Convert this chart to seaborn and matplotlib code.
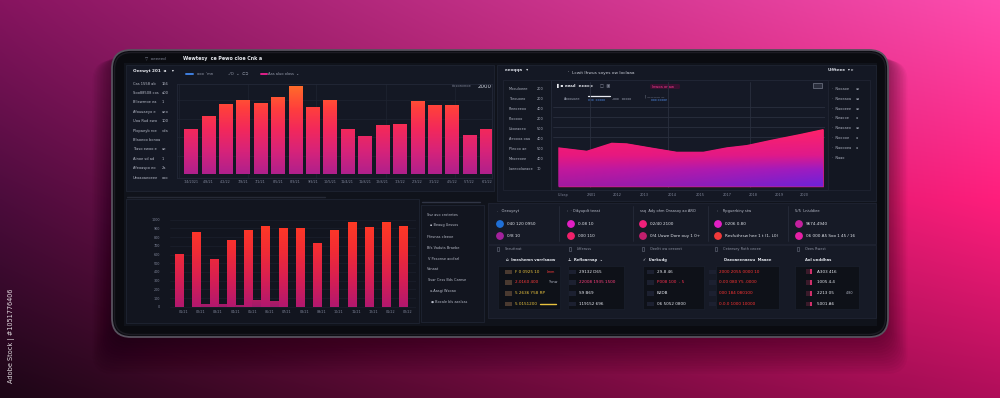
import numpy as np
import pandas as pd
import matplotlib
matplotlib.use("Agg")
import matplotlib.pyplot as plt
import seaborn as sns
from matplotlib.patches import FancyBboxPatch, Rectangle, Circle
from matplotlib.colors import LinearSegmentedColormap, to_rgb

sns.set_theme(style="dark")
plt.rcParams['font.family'] = ['DejaVu Sans']

# ---------------- data ----------------
top_labels = ['1/4/2021', '4/8/21', '4/2/22', '7/8/21', '7/1/21', '8/5/21', '8/9/21', '9/9/21',
              '10/5/21', '11/4/21', '11/8/21', '12/8/21', '1/3/22', '2/3/22', '3/1/22',
              '4/5/22', '5/7/22', '6/1/22']
top_values = [958, 1231, 1498, 1577, 1512, 1649, 1894, 1426, 1577, 958, 806, 1037, 1066,
              1562, 1469, 1490, 821, 958]

bottom_labels = ['01/21', '02/21', '03/21', '04/21', '05/21', '06/21', '07/21', '08/21',
                 '09/21', '10/21', '11/21', '12/21', '01/22', '02/22']
bottom_main = [604, 861, 546, 769, 881, 927, 904, 904, 731, 877, 977, 911, 977, 931]
bottom_extra = [0, 27, 27, 23, 77, 58, 0, 0, 0, 0, 0, 0, 0, 0]
bottom_yticks = [0, 100, 200, 300, 400, 500, 600, 700, 800, 900, 1000]

area_x = [0, 85, 160, 205, 275, 355, 435, 505, 565, 645, 725, 795]
area_y = [394, 360, 440, 434, 394, 350, 350, 394, 417, 474, 527, 577]
area_tick_pos = [14, 98, 176, 257, 341, 425, 506, 584, 662, 737]
area_tick_labels = ['Uilsep', '2N01', '2012', '2013', '2014', '2015', '2017', '2018', '2019', '2020']

sidebar_items = ['Cas 1558 ab', 'Soo88508 cos', 'Bliewrnoe ea', 'Afouuaeyo e', 'Uoa Rud ewo',
                 'Plopaeyb roe', 'Blaoeoo bonoa', 'Tlaso ewoo e', 'Ainoe sd ad', 'Afeoaspo eo',
                 'Ueoaoaeoeee']
sidebar_vals = ['166', 'a00', '1', 'aeo', '100', 'vda', '', 'ae', '1', '2a', 'coo']

tr_left_items = ['Moouloeee', 'Tleouoeo', 'Fleeoeeoo', 'Plooooo', 'Uooeaoeo', 'Aeoooa oaa',
                 'Pleooo ae', 'Meoeeoee', 'Laeeoolaeaoe']
tr_left_vals = ['200', '200', '400', '200', '500', '400', '500', '400', '10']
tr_right_items = ['Nooaoe', 'Neoeaoa', 'Naooeee', 'Neaooe', 'Neaoaeo', 'Nooooe', 'Naoooea', 'Naao']
tr_right_vals = ['ao', 'aa', 'ao', 'a', 'ao', 'a', 'a', '']

list_items = ['Ssz avo crotretes', '\u25aa Beaug Uessos', 'Ffesnas cleeoe', 'Bfs Vaduts Braebe',
              'V Pesonse accfarl', 'Vanaat', 'Ssar Cess Bds Carese', 'a-Aasgi Wsoao',
              '\u25cf Bocale bls azelsas']

card_titles = ['.   Oeeuyeyt', ':  \u00b7 Oikyupdt teeat', 'ssq  Ady ohm Onsasoy ao ARO',
               ':    Rpguerbiny stw', '5/5  Lniuldiee']
card_dot_colors = [('#1f6fd6', '#a3219c'), ('#e21fc4', '#f2206a'), ('#f0207a', '#c21f6e'),
                   ('#e21fc4', '#f23a3a'), ('#c4209e', '#e620a6')]
card_dot_texts = [('040 120 0950', '0/8 10'), ('0.08 10', '000 110'),
                  ('02/40 2100', '0/4 Uuwe Dore ouy 1 0+'), ('0206 0.80', 'Resfuthrsw hee 1 t (1- L0)'),
                  ('9674-4940', '06 000 A5 Soo 1 45 / 16')]
table_titles = ['Seeuttnat', 'Lifferuss', 'Oeeltt ow ceeorot', 'Ceteesey Roth ceoee', 'Oees Rwest']
table_subs = ['\u2302  Imeshemn varrlsaow', '\u22a5  Refloarnap  \u2304', '\u2713  Uarkudg',
              'Daeoaeenaeuu  Maaee', 'Aol unddhas']
table_rows = [
    ['F 0 0925 10', '2.0160 400', '5 2636 Y58 RP', '5 0151200'],
    ['29132 D65', '22008 1935 1500', 'S9 B69', '119152 696'],
    ['29-8 46', 'P008 100  - 5', 'B2DB', '06 5052 0800'],
    ['2000 2055 0000 10', '0.00 080 Y5 .0000', '000 184 080100', '0.0.0 1000 10000'],
    ['A303 416', '1005 4.4', '2213 05', '5001 A6'],
]
table_colors = [
    ['#e8c23e', '#ff3b3b', '#e8c23e', '#e8c23e'],
    ['#e6e8ef', '#ff3f7d', '#e6e8ef', '#e6e8ef'],
    ['#e6e8ef', '#ff3050', '#e6e8ef', '#e6e8ef'],
    ['#ff3434', '#ff3434', '#ff3434', '#ff3434'],
    ['#e6e8ef', '#e6e8ef', '#e6e8ef', '#e6e8ef'],
]

# ---------------- figure / canvas ----------------
W, H = 1000, 398
fig = plt.figure(figsize=(10, 3.98), dpi=100)
bg = fig.add_axes([0, 0, 1, 1])
bg.set_xlim(0, W)
bg.set_ylim(H, 0)
bg.axis('off')
bg.set_zorder(0)


def col_profile(stops, n):
    v = np.linspace(0, 1, n)
    pos = [0, 0.5, 1]
    arr = np.array([to_rgb(c) for c in stops])
    return np.stack([np.interp(v, pos, arr[:, k]) for k in range(3)], axis=1)


left_c = col_profile(['#86145f', '#4c0c3c', '#1c0616'], 200)
right_c = col_profile(['#ff4cae', '#ff1e7c', '#b00e5a'], 200)
u = np.linspace(0, 1, 500)[None, :, None]
bgimg = left_c[:, None, :] * (1 - u) + right_c[:, None, :] * u
bg.imshow(bgimg, extent=(0, W, H, 0), aspect='auto', zorder=0, interpolation='bilinear')

# soft shadow
for i in range(14):
    bg.add_patch(FancyBboxPatch((112 - i * 1.5, 53 + i * 0.6), 776 + i * 3, 287 + i * 2.0,
                                boxstyle='round,pad=0,rounding_size=20', fc='black', ec='none',
                                alpha=0.03, zorder=1))
# tablet body
bg.add_patch(FancyBboxPatch((112, 50), 776, 287, boxstyle='round,pad=0,rounding_size=19',
                            fc='#0a0b10', ec='#57525e', lw=1.3, zorder=2))
bg.add_patch(FancyBboxPatch((114.5, 52.5), 771, 282, boxstyle='round,pad=0,rounding_size=17',
                            fc='none', ec='#1c1b23', lw=1.0, zorder=2))
# screen
bg.add_patch(Rectangle((124, 63), 753, 263, fc='#10131b', ec='none', zorder=3))


def panel(x0, y0, x1, y1, fc='#141824', ec='#1f2432', lw=0.6):
    bg.add_patch(Rectangle((x0, y0), x1 - x0, y1 - y0, fc=fc, ec=ec, lw=lw, zorder=4))


panel(126, 65, 494, 191)
panel(497, 65, 876, 201)
panel(126, 199, 419, 323, fc='#12151f')
panel(421, 205, 484, 322, fc='#12151f')
panel(488, 203, 876, 244, fc='#161a26')
panel(488, 245, 876, 318, fc='#161a26')
# inner boxes of top-right panel
panel(503, 80, 551, 190, fc='#131722', ec='#1f2432')
panel(551, 80, 828, 190, fc='#151926', ec='#232838')
panel(828, 80, 870, 190, fc='#131722', ec='#1f2432')
# separators in card row 1
for sx in [559, 633, 708, 788]:
    bg.plot([sx, sx], [206, 241], color='#262b3a', lw=0.6, zorder=5)
# lines
bg.plot([127, 325], [197, 197], color='#262a36', lw=1.0, zorder=5)
bg.plot([422, 480], [202, 202], color='#303545', lw=1.0, zorder=5)


def t(x, y, s, fs=2.8, c='#aab0c0', ha='left', weight='normal'):
    bg.text(x, y, s, fontsize=fs, color=c, ha=ha, va='center', zorder=10, weight=weight)


# header texts
t(145, 58.5, '\u25bd  oeeeed', 3.0, '#7f8496')
t(183, 58.5, 'Wewtesy  ce Pewo cloe Cnk a', 3.4, '#e8eaf0', weight='bold')
t(505, 70, 'eeoqqa   \u25be', 3.0, '#d8dbe4', weight='bold')
t(568, 73, '\u02bc  Lcwit Ihwus soyes ow loclaaa', 3.1, '#c8ccd6')
t(828, 70, 'Uffteee  \u25be \u25b8', 3.0, '#d8dbe4', weight='bold')

# top-left sidebar
t(133, 71, 'Oeewyt 201  \u03b1    \u25be', 3.0, '#e8eaf0', weight='bold')
ys = [84, 93.3, 102.3, 111.7, 121, 130.7, 140, 149.3, 158.7, 168.3, 177.7]
for yy, s, v in zip(ys, sidebar_items, sidebar_vals):
    t(133, yy, s, 2.6, '#b8bcc9')
    t(162, yy, v, 2.6, '#b8bcc9')

# top-left legend row
bg.plot([186, 193], [74.3, 74.3], color='#3f7fe0', lw=1.4, zorder=10)
t(197, 74.3, 'ooo  \u02bcmn', 2.6, '#9aa0b0')
t(228, 74.3, '-/O  \u2304  \u2282\u2283', 2.8, '#9aa0b0')
bg.plot([261, 267], [74.3, 74.3], color='#e0208a', lw=1.4, zorder=10)
t(268, 74.3, 'Aas aluo oloss  \u2304', 2.6, '#9aa0b0')
t(452, 86, 'Pbsonvnoe', 2.6, '#7f8496')
t(478, 86, '2000', 4.0, '#d0d4de')

# top-right lists
ys = [89.3, 99.3, 109.3, 119, 129, 139, 149, 159, 169.3]
for yy, s, v in zip(ys, tr_left_items, tr_left_vals):
    t(509, yy, s, 2.5, '#b0b5c3')
    t(537, yy, v, 2.5, '#b0b5c3')
ys = [89.3, 99.3, 109, 118.3, 128, 137.7, 147.7, 157.7]
for yy, s, v in zip(ys, tr_right_items, tr_right_vals):
    t(832, yy, '\u00b7  ' + s, 2.5, '#b0b5c3')
    t(856, yy, v, 2.5, '#b0b5c3')

# area header
t(557, 86, '\u258c\u25aa eaul  ecxcp', 3.2, '#e8eaf0', weight='bold')
t(600, 86, '\u25a1  \u25a3', 3.0, '#8a8fa0')
bg.add_patch(FancyBboxPatch((650, 84), 30, 5, boxstyle='round,pad=0,rounding_size=1.5',
                            fc='#3a1030', ec='none', zorder=9))
t(652, 86.5, 'lnwoa or aw', 2.6, '#ff3a90')
bg.add_patch(Rectangle((813, 83), 9, 5, fc='#2a2e3c', ec='#8a8fa0', lw=0.4, zorder=9))
t(564, 99, 'Aooouoee', 2.4, '#9aa0b0')
bg.plot([588, 610], [96, 96], color='#e8eaf0', lw=0.9, zorder=10)
t(588, 100, 'ooo  ooooo', 2.3, '#4f8ae6')
t(612, 99, '-ooo   ooooo', 2.3, '#9aa0b0')
t(645, 97, '| \u2014\u2014\u2014\u2014 \u2014', 2.3, '#9aa0b0')
t(651, 100, 'ooo ooooe', 2.3, '#4f8ae6')

# bottom-mid list
ys = [215, 225, 236.7, 247.7, 259, 269.3, 280, 290.7, 302.3]
xs = [427, 430, 427, 427, 428, 427, 428, 430, 431]
for xx, yy, s in zip(xs, ys, list_items):
    t(xx, yy, s, 2.5, '#b8bcc9')

# card row 1
title_x = [497, 567, 640, 717, 795]
dot_x = [500, 571, 643, 718, 799]
for i in range(5):
    t(title_x[i], 211, card_titles[i], 2.6, '#b8bcc9')
    for j, yy in enumerate([224, 236]):
        bg.add_patch(Circle((dot_x[i], yy), 3.9, fc=card_dot_colors[i][j], ec='none', zorder=10))
        t(dot_x[i] + 7, yy, card_dot_texts[i][j], 3.0, '#e0e3ea')

# card row 2 tables
tt_x = [505, 577, 650, 723, 805]
box_x = [(498, 560), (568, 624), (643, 704), (716, 779), (795, 859)]
sub_x = [506, 568, 643, 748, 818]
sub_ha = ['left', 'left', 'left', 'center', 'center']
row_y = [271.7, 282.3, 293.3, 304]
row_tx = [515, 579, 657, 719, 817]
for i in range(5):
    bg.add_patch(Rectangle((tt_x[i] - 8, 246.5), 2, 4, fc='none', ec='#6a7080', lw=0.4, zorder=10))
    t(tt_x[i], 249, table_titles[i], 2.5, '#8f94a4')
    t(sub_x[i], 260, table_subs[i], 2.7, '#e0e3ea', ha=sub_ha[i], weight='bold')
    x0, x1 = box_x[i]
    bg.add_patch(Rectangle((x0, 266), x1 - x0, 43, fc='#0e1118', ec='#1d2230', lw=0.4, zorder=9))
    for j, yy in enumerate(row_y):
        if i == 0:
            bg.add_patch(Rectangle((505, yy - 2.2), 7, 4.4, fc='#4a3a30', ec='none', zorder=10))
        elif i == 4:
            bg.add_patch(Rectangle((806, yy - 2.4), 6, 4.8, fc='#3a1a2a', ec='none', zorder=10))
            bg.add_patch(Rectangle((810, yy - 2.4), 2, 4.8, fc='#d0306a', ec='none', zorder=10))
        else:
            bg.add_patch(Rectangle((row_tx[i] - 10, yy - 2.2), 7, 4.4, fc='#1c2030', ec='none', zorder=10))
        t(row_tx[i], yy, table_rows[i][j], 3.0, table_colors[i][j])
t(547, 271.7, 'Lmm', 2.4, '#ff3b3b')
t(549, 282.3, 'Yonw', 2.4, '#b0b5c3')
bg.plot([540, 556], [304, 304], color='#e8c23e', lw=1.0, zorder=10)
t(846, 293.3, '4.80', 2.4, '#b0b5c3')

# watermark id text
bg.text(12, 336, 'Adobe Stock | #1051776406', rotation=90, fontsize=4.7, color='white',
        alpha=0.85, ha='center', va='center', zorder=10)


def ax_px(x0, y0, x1, y1):
    a = fig.add_axes([x0 / W, 1 - y1 / H, (x1 - x0) / W, (y1 - y0) / H])
    a.set_zorder(2)
    a.patch.set_alpha(0)
    return a


def grad_bars(ax, patches, cmap, vmax):
    for p in patches:
        x0, y0, w, h = p.get_x(), p.get_y(), p.get_width(), p.get_height()
        p.set_facecolor('none')
        p.set_edgecolor('none')
        p.set_linewidth(0)
        if h <= 0:
            continue
        vals = np.linspace(y0 / vmax, (y0 + h) / vmax, 64).reshape(-1, 1)
        ax.imshow(vals, extent=(x0, x0 + w, y0, y0 + h), origin='lower', cmap=cmap,
                  vmin=0, vmax=1, aspect='auto', zorder=3, interpolation='bilinear')


tick_c = '#80869a'

# ---------------- top-left bar chart ----------------
ax1 = ax_px(177, 84, 492, 178)
df1 = pd.DataFrame({'label': top_labels, 'value': top_values})
sns.barplot(data=df1, x='label', y='value', ax=ax1, color='#f03060', width=0.76, saturation=1)
cmap1 = LinearSegmentedColormap.from_list('c1', ['#b0208c', '#d6237a', '#f2285c', '#ff3f3c', '#ff6a2a'])
grad_bars(ax1, ax1.containers[0], cmap1, max(top_values))
ax1.set_xlim(-0.79, 17.3)
ax1.set_ylim(-80, 1950)
ax1.set_xlabel('')
ax1.set_ylabel('')
ax1.set_yticks([400, 800, 1200, 1600])
ax1.set_yticklabels([])
ax1.set_xticks(range(len(top_labels)))
ax1.set_xticklabels(top_labels, fontsize=2.4, color=tick_c)
ax1.set_xticks([-0.7, 3.3, 7.2, 11.2, 15.2], minor=True)
ax1.tick_params(axis='both', length=0, pad=1.5)
ax1.grid(True, axis='y', color='#1f2431', lw=0.5)
ax1.grid(True, axis='x', which='minor', color='#1f2431', lw=0.5)
ax1.grid(False, axis='x', which='major')
for s in ax1.spines.values():
    s.set_color('#232838')
    s.set_linewidth(0.6)

# ---------------- top-right area chart ----------------
ax3 = ax_px(553, 82, 825, 188)
poly = ax3.fill_between(area_x, area_y, 0, color='#ff1f6e', lw=0, zorder=2)
ny, nx = 120, 200
vv = np.linspace(0, 1, ny)[:, None]
uu = np.linspace(0, 1, nx)[None, :]
pos = [0, 0.3, 0.55, 1.0]
lc = np.array([to_rgb(c) for c in ['#a01aa2', '#c2189c', '#e8187e', '#ff1f68']])
rc = np.array([to_rgb(c) for c in ['#6c22da', '#9a1cc4', '#de1a8c', '#ff2268']])
rgb = np.zeros((ny, nx, 3))
for k in range(3):
    lcol = np.interp(vv[:, 0], pos, lc[:, k])[:, None]
    rcol = np.interp(vv[:, 0], pos, rc[:, k])[:, None]
    rgb[:, :, k] = lcol * (1 - uu ** 1.3) + rcol * uu ** 1.3
im = ax3.imshow(rgb, extent=(min(area_x), max(area_x), 0, max(area_y)), origin='lower',
                aspect='auto', zorder=3, interpolation='bilinear')
im.set_clip_path(poly.get_paths()[0], ax3.transData)
ax3.set_xlim(-16, 800)
ax3.set_ylim(-13, 1047)
ax3.set_yticks([497, 597, 697, 797])
ax3.set_yticklabels([])
ax3.set_xticks(area_tick_pos)
ax3.set_xticklabels(area_tick_labels, fontsize=2.5, color=tick_c)
ax3.set_xticks([95, 329, 575], minor=True)
ax3.tick_params(axis='both', length=0, pad=3.5)
ax3.grid(True, axis='y', color='#2a2f3e', lw=0.6)
ax3.grid(True, axis='x', which='minor', color='#2a2f3e', lw=0.6)
ax3.grid(False, axis='x', which='major')
for s in ax3.spines.values():
    s.set_visible(False)

# ---------------- bottom-left grouped bar chart ----------------
ax2 = ax_px(170, 212, 416, 308)
df2 = pd.DataFrame({
    'label': bottom_labels * 2,
    'series': ['main'] * len(bottom_labels) + ['extra'] * len(bottom_labels),
    'value': bottom_main + bottom_extra,
})
sns.barplot(data=df2, x='label', y='value', hue='series', ax=ax2,
            palette={'main': '#ff3a28', 'extra': '#9a1c62'}, width=0.96, gap=0,
            saturation=1, legend=False)
cmap2 = LinearSegmentedColormap.from_list('c2', ['#b2186e', '#d81f52', '#f22c34', '#ff3a24'])
grad_bars(ax2, ax2.containers[0], cmap2, max(bottom_main))
cmap3 = LinearSegmentedColormap.from_list('c3', ['#a01a6c', '#b81e60'])
grad_bars(ax2, ax2.containers[1], cmap3, 100)
ax2.set_xlim(-0.77, 13.48)
ax2.set_ylim(-15, 1089)
ax2.set_xlabel('')
ax2.set_ylabel('')
ax2.set_yticks(bottom_yticks)
ax2.set_yticklabels([str(v) for v in bottom_yticks], fontsize=2.4, color=tick_c)
ax2.set_xticks(range(len(bottom_labels)))
ax2.set_xticklabels(bottom_labels, fontsize=2.4, color=tick_c)
ax2.tick_params(axis='y', length=0, pad=7)
ax2.tick_params(axis='x', length=0, pad=1.5)
ax2.grid(True, axis='y', color='#1c202c', lw=0.5)
ax2.grid(False, axis='x')
for s in ax2.spines.values():
    s.set_visible(False)

fig.savefig('out.png', dpi=100)
